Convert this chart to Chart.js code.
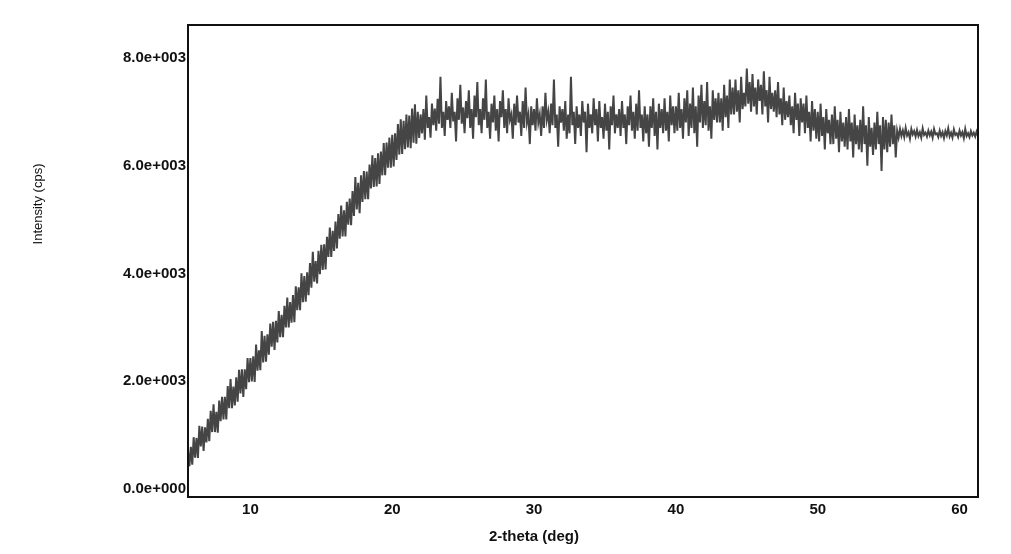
<!DOCTYPE html>
<html>
<head>
<meta charset="utf-8">
<script src="https://cdn.jsdelivr.net/npm/chart.js@4.4.1/dist/chart.umd.min.js"></script>
<style>
  html, body { margin: 0; padding: 0; background: #fff; }
  #xrd { display: block; }
</style>
</head>
<body>
<canvas id="xrd" width="1011" height="554"></canvas>
<script>
// scan grid: 5.6 deg to 61.3 deg, 0.1 deg step
const startAngle = 5.6;
const stepAngle = 0.1;

// intensity (cps), one row per degree
const intensity = [
  700, 420, 780, 450,
  960, 578, 946, 574, 1172, 790, 1158, 706, 1144, 862,
  1300, 885, 1450, 1055, 1570, 1055, 1430, 1045, 1640, 1255,
  1710, 1290, 1710, 1290, 1910, 1500, 2040, 1500, 1900, 1550,
  2070, 1620, 2210, 1770, 2220, 1705, 2220, 1850, 2430, 1980,
  2430, 1995, 2460, 1985, 2680, 2195, 2570, 2205, 2930, 2345,
  2840, 2360, 2870, 2490, 3070, 2640, 3100, 2580, 3120, 2720,
  3300, 2815, 3230, 2815, 3400, 2995, 3550, 2995, 3470, 3085,
  3600, 3095, 3760, 3315, 3740, 3315, 4000, 3465, 3950, 3475,
  4020, 3595, 4190, 3735, 4400, 3845, 4230, 3815, 4420, 3985,
  4530, 4065, 4540, 4075, 4680, 4305, 4850, 4305, 4790, 4415,
  4960, 4465, 5100, 4645, 5260, 4685, 5170, 4685, 5330, 4905,
  5390, 4895, 5530, 5065, 5790, 5185, 5680, 5115, 5820, 5325,
  5900, 5375, 5890, 5375, 6020, 5575, 6190, 5605, 6140, 5615,
  6230, 5660, 6260, 5820, 6420, 5820, 6430, 5960, 6520, 5960,
  6570, 5985, 6600, 6105, 6770, 6205, 6860, 6215, 6830, 6305,
  6950, 6335, 6930, 6325, 7060, 6425, 7140, 6405, 7000, 6515,
  6950, 6600, 7050, 6480, 7300, 6700, 6900, 6520, 7150, 6750,
  7060, 6650, 7240, 6780, 7650, 6700, 7000, 6550, 7200, 6850,
  7100, 6700, 7350, 6820, 7000, 6450, 7250, 6850, 7500, 6780,
  7080, 6600, 7200, 6880, 7400, 6700, 7050, 6500, 7300, 6900,
  7550, 6750, 7050, 6600, 7250, 6850, 7600, 6700, 7000, 6500,
  7150, 6800, 7300, 6650, 7050, 6450, 7200, 6900, 7400, 6700,
  7050, 6600, 7250, 6850, 6950, 6500, 7150, 6750, 7300, 6800,
  7000, 6550, 7200, 6700, 7450, 6800, 6950, 6400, 7100, 6750,
  7050, 6650, 7250, 6800, 6950, 6550, 7100, 6700, 7350, 6850,
  7000, 6600, 7150, 6750, 7600, 6700, 6950, 6350, 7100, 6800,
  7050, 6650, 7200, 6500, 6950, 6600, 7650, 6750, 7000, 6400,
  7100, 6700, 6950, 6550, 7200, 6800, 7000, 6250, 7150, 6700,
  6950, 6600, 7250, 6750, 7050, 6450, 7200, 6700, 6900, 6500,
  7150, 6650, 7000, 6300, 7100, 6750, 7300, 6600, 6950, 6700,
  7050, 6550, 7200, 6700, 6950, 6400, 7100, 6750, 7300, 6650,
  7000, 6500, 7150, 6650, 7400, 6700, 6950, 6450, 7100, 6600,
  6950, 6350, 7100, 6700, 7250, 6550, 7000, 6300, 7150, 6700,
  7050, 6600, 7250, 6650, 7000, 6450, 7300, 6750, 7100, 6600,
  7100, 6650, 7350, 6700, 7050, 6500, 7250, 6800, 7400, 6550,
  7150, 6700, 7450, 6600, 7100, 6350, 7300, 6800, 7500, 6700,
  7200, 6750, 7550, 6650, 7100, 6500, 7400, 6850, 7250, 6800,
  7350, 6800, 7250, 6650, 7500, 6900, 7300, 6700, 7600, 6950,
  7450, 6950, 7600, 7000, 7400, 6800, 7650, 7050, 7350, 7100,
  7800, 7150, 7550, 7000, 7700, 7100, 7450, 6950, 7600, 7200,
  7500, 6950, 7750, 7100, 7400, 6800, 7650, 7050, 7350, 7000,
  7400, 6900, 7550, 6950, 7250, 6750, 7450, 6850, 7200, 6900,
  7300, 6750, 7100, 6600, 7350, 6850, 7150, 6550, 7250, 6800,
  7150, 6600, 7300, 6700, 7000, 6450, 7200, 6650, 7050, 6500,
  7000, 6450, 7150, 6550, 6900, 6300, 7050, 6600, 6850, 6400,
  6950, 6400, 7100, 6500, 6850, 6250, 7000, 6450, 6800, 6350,
  6900, 6300, 7050, 6450, 6800, 6150, 6950, 6400, 6750, 6300,
  6850, 6250, 7100, 6400, 6750, 6000, 6900, 6350, 6700, 6200,
  6800, 6300, 7000, 6400, 6750, 5900, 6900, 6300, 6850, 6250,
  6800, 6350, 6950, 6400, 6750, 6150, 6650, 6520, 6680, 6550,
  6650, 6530, 6700, 6560, 6620, 6500, 6680, 6580, 6640, 6540,
  6660, 6550, 6620, 6520, 6690, 6570, 6610, 6540, 6650, 6560,
  6630, 6520, 6680, 6580, 6600, 6530, 6650, 6550, 6620, 6510,
  6640, 6560, 6690, 6540, 6610, 6520, 6670, 6570, 6600, 6530,
  6650, 6560, 6620, 6510, 6680, 6550, 6600, 6530, 6640, 6560,
  6610, 6540, 6630, 6550
];

const xTicks = [10, 20, 30, 40, 50, 60];
const yTicks = [0, 2000, 4000, 6000, 8000];
const yTickLabels = ['0.0e+000', '2.0e+003', '4.0e+003', '6.0e+003', '8.0e+003'];

const points = intensity.map((v, i) => ({ x: +(startAngle + i * stepAngle).toFixed(1), y: v }));

// frame round the plot area and the two axis titles
const framePlugin = {
  id: 'frame',
  afterDraw(chart) {
    const { ctx, chartArea: a } = chart;
    ctx.save();
    ctx.strokeStyle = '#111';
    ctx.lineWidth = 2;
    ctx.strokeRect(a.left, a.top, a.right - a.left, a.bottom - a.top);

    ctx.fillStyle = '#111';
    ctx.textAlign = 'center';
    ctx.textBaseline = 'middle';
    ctx.font = 'bold 15px "Liberation Sans", Arial, sans-serif';
    ctx.fillText('2-theta (deg)', 534, 537);

    ctx.translate(38, 204);
    ctx.rotate(-Math.PI / 2);
    ctx.font = '13px "Liberation Sans", Arial, sans-serif';
    ctx.fillText('Intensity (cps)', 0, 0);
    ctx.restore();
  }
};

new Chart(document.getElementById('xrd'), {
  type: 'line',
  data: {
    datasets: [{
      data: points,
      borderColor: '#454545',
      borderWidth: 2,
      pointRadius: 0,
      tension: 0,
      fill: false,
    }],
  },
  options: {
    responsive: false,
    animation: false,
    layout: { padding: { left: 0, top: 25, right: 33, bottom: 0 } },
    plugins: { legend: { display: false }, tooltip: { enabled: false } },
    scales: {
      x: {
        type: 'linear',
        min: 5.6,
        max: 61.3,
        grid: { display: false, drawTicks: false },
        border: { display: false },
        afterBuildTicks: (axis) => { axis.ticks = xTicks.map(v => ({ value: v })); },
        afterFit: (axis) => { axis.height = 57; },
        ticks: {
          autoSkip: false,
          maxRotation: 0,
          padding: 4,
          color: '#111',
          font: { family: '"Liberation Sans", Arial, sans-serif', size: 15, weight: 'bold' },
        },
      },
      y: {
        min: -150,
        max: 8610,
        grid: { display: false, drawTicks: false },
        border: { display: false },
        afterBuildTicks: (axis) => { axis.ticks = yTicks.map(v => ({ value: v })); },
        afterFit: (axis) => { axis.width = 188; },
        ticks: {
          padding: 2,
          color: '#111',
          font: { family: '"Liberation Sans", Arial, sans-serif', size: 15, weight: 'bold' },
          callback: (value) => yTickLabels[yTicks.indexOf(value)],
        },
      },
    },
  },
  plugins: [framePlugin],
});
</script>
</body>
</html>
